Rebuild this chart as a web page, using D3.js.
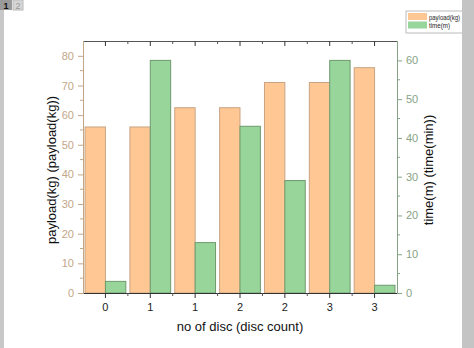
<!DOCTYPE html>
<html><head><meta charset="utf-8">
<script src="https://cdn.jsdelivr.net/npm/d3@7"></script>
<style>body{margin:0;background:#fff}svg{display:block}text{font-family:"Liberation Sans",Arial,sans-serif}</style>
</head><body>
<script>
const categories = ["0","1","1","2","2","3","3"];
const payload = [56, 56, 62.5, 62.5, 71, 71, 76];
const time = [3, 60, 13, 43, 29, 60, 2];
const leftTicks = [0,10,20,30,40,50,60,70,80];
const rightTicks = [0,10,20,30,40,50,60];
const seriesNames = ["payload(kg)", "time(m)"];

const W = 474, H = 348;
const L = 83, R = 397, T = 41, B = 293;
const orange = "#FFC794", orangeStroke = "#C9A383";
const green = "#98D59B", greenStroke = "#6E9A6E";
const leftCol = "#C2A688", rightCol = "#86A386";

const svg = d3.select("body").append("svg").attr("width", W).attr("height", H);

const idx = d3.range(categories.length);
const x = d3.scaleBand().domain(idx).range([L, R]).padding(0);
const x1 = d3.scaleBand().domain([0,1]).range([0, x.bandwidth()]).paddingInner(0).paddingOuter(0.1);
const yL = d3.scaleLinear().domain([0, 85]).range([B, T]);
const yR = d3.scaleLinear().domain([0, 65]).range([B, T]);

// bars
const g = svg.append("g");
g.selectAll(".bp").data(payload).join("rect")
  .attr("x",(d,i)=>x(i)+x1(0)).attr("y",d=>yL(d))
  .attr("width",x1.bandwidth()).attr("height",d=>B-yL(d))
  .attr("fill",orange).attr("stroke",orangeStroke).attr("stroke-width",1);
g.selectAll(".bt").data(time).join("rect")
  .attr("x",(d,i)=>x(i)+x1(1)).attr("y",d=>yR(d))
  .attr("width",x1.bandwidth()).attr("height",d=>B-yR(d))
  .attr("fill",green).attr("stroke",greenStroke).attr("stroke-width",1);

// bottom axis
const xAxis = d3.axisBottom(x).tickFormat(i=>categories[i]).tickSize(5).tickSizeOuter(0);
const gx = svg.append("g").attr("transform",`translate(0,${B})`).call(xAxis);
gx.select(".domain").attr("stroke","#333");
gx.selectAll(".tick line").attr("stroke","#333");
gx.selectAll(".tick text").attr("font-size",11).attr("fill","#222").attr("dy","0.95em");
const bounds = idx.slice(1).map(i=>x(i));
gx.selectAll(".minor").data(bounds).join("line").attr("x1",d=>d).attr("x2",d=>d).attr("y1",0).attr("y2",3).attr("stroke","#555");

// top axis
const gt = svg.append("g").attr("transform",`translate(0,${T})`).call(d3.axisTop(x).tickFormat("").tickSize(-5).tickSizeOuter(0));
gt.select(".domain").attr("stroke","#555");
gt.selectAll(".tick line").attr("stroke","#333");
gt.selectAll(".minor").data(bounds).join("line").attr("x1",d=>d).attr("x2",d=>d).attr("y1",0).attr("y2",3).attr("stroke","#555");

// left axis
const gl = svg.append("g").attr("transform",`translate(${L},0)`)
  .call(d3.axisLeft(yL).tickValues(leftTicks).tickSize(5).tickSizeOuter(0).tickPadding(4));
gl.select(".domain").attr("stroke",leftCol);
gl.selectAll(".tick line").attr("stroke",leftCol);
gl.selectAll(".tick text").attr("font-size",11).attr("fill",leftCol);
gl.selectAll(".minor").data(d3.range(5,85,10)).join("line")
  .attr("x1",0).attr("x2",-3).attr("y1",d=>yL(d)).attr("y2",d=>yL(d)).attr("stroke",leftCol);

// right axis
const gr = svg.append("g").attr("transform",`translate(${R},0)`)
  .call(d3.axisRight(yR).tickValues(rightTicks).tickSize(5).tickSizeOuter(0).tickPadding(4));
gr.select(".domain").attr("stroke",rightCol);
gr.selectAll(".tick line").attr("stroke",rightCol);
gr.selectAll(".tick text").attr("font-size",11).attr("fill",rightCol);
gr.selectAll(".minor").data(d3.range(5,65,10)).join("line")
  .attr("x1",0).attr("x2",3).attr("y1",d=>yR(d)).attr("y2",d=>yR(d)).attr("stroke",rightCol);

// titles
svg.append("text").attr("transform",`translate(56,${(T+B)/2+3}) rotate(-90)`).attr("text-anchor","middle")
  .attr("font-size",13).attr("fill","#111").text("payload(kg) (payload(kg))");
svg.append("text").attr("transform",`translate(433,${(T+B)/2+3}) rotate(-90)`).attr("text-anchor","middle")
  .attr("font-size",13).attr("fill","#111").text("time(m) (time(min))");
svg.append("text").attr("x",(L+R)/2).attr("y",331).attr("text-anchor","middle")
  .attr("font-size",13).attr("fill","#111").text("no of disc (disc count)");

// legend
const lg = svg.append("g");
lg.append("rect").attr("x",406).attr("y",11).attr("width",62).attr("height",22).attr("fill","#fff").attr("stroke","#bbb");
const lcol = [orange, green];
const lw = [31, 21];
seriesNames.forEach((s,i)=>{
  lg.append("rect").attr("x",408).attr("y",13+i*8.5).attr("width",19).attr("height",7).attr("fill",lcol[i]);
  lg.append("text").attr("x",429).attr("y",19.5+i*8.5).attr("font-size",8)
    .attr("textLength",lw[i]).attr("lengthAdjust","spacingAndGlyphs").attr("fill","#222").text(s);
});

// frame decorations
svg.append("rect").attr("x",0).attr("y",0).attr("width",4).attr("height",H).attr("fill","#c8c8c8");
svg.append("rect").attr("x",462).attr("y",0).attr("width",12).attr("height",H).attr("fill","#c4c4c4");
svg.append("rect").attr("x",0).attr("y",0).attr("width",12).attr("height",10).attr("fill","#9a9a9a");
svg.append("text").attr("x",6).attr("y",8.5).attr("text-anchor","middle").attr("font-size",9).attr("font-weight","bold").attr("fill","#111").text("1");
svg.append("rect").attr("x",13).attr("y",0).attr("width",10).attr("height",10).attr("fill","#d6d6d6").attr("stroke","#bbb");
svg.append("text").attr("x",18).attr("y",8.5).attr("text-anchor","middle").attr("font-size",9).attr("fill","#999").text("2");
</script>
</body></html>
